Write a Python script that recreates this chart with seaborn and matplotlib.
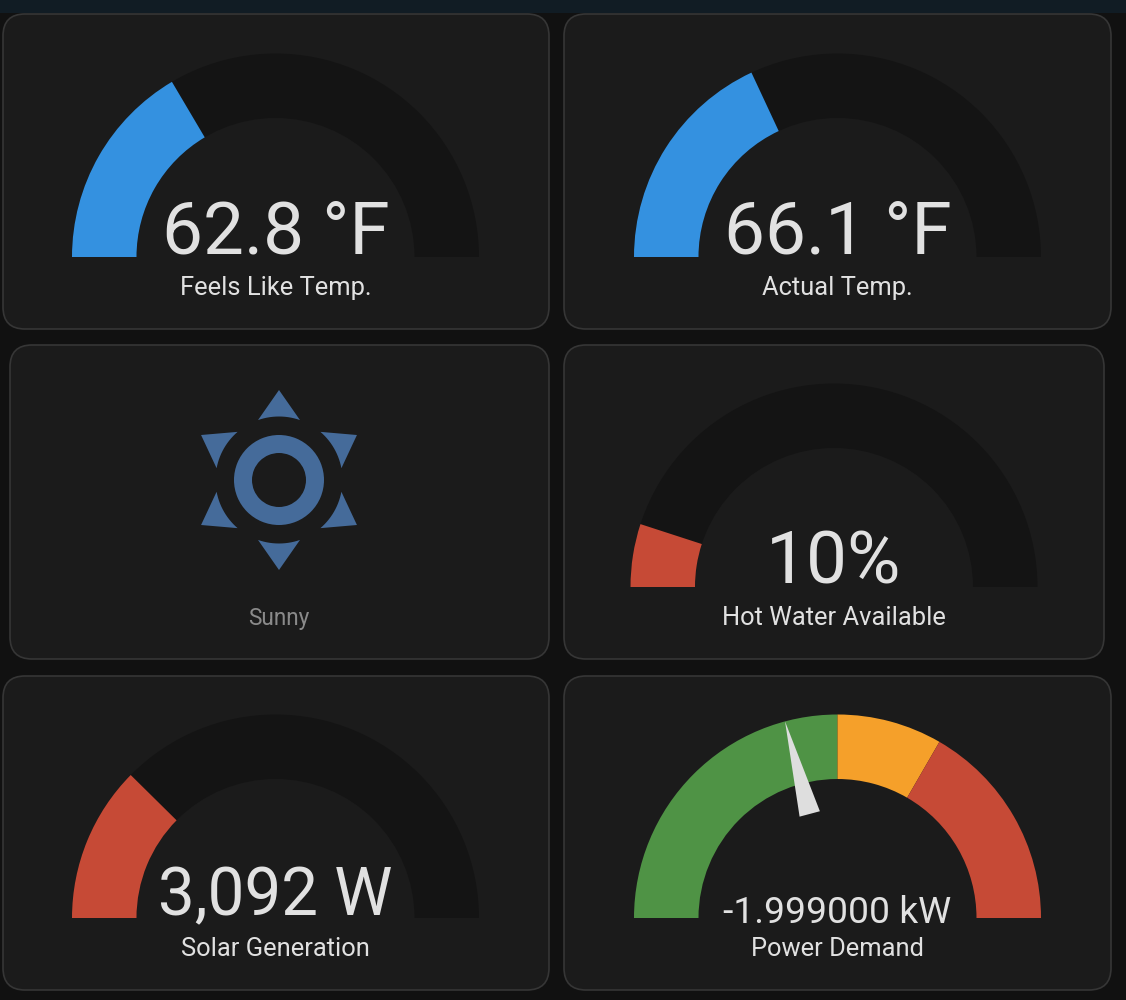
"""Home dashboard gauges: three temperature/level cards, a weather card and two power cards."""

import numpy as np
import matplotlib
matplotlib.use("Agg")
import matplotlib.pyplot as plt
from matplotlib.patches import FancyBboxPatch, Wedge, Polygon, Rectangle
import seaborn as sns

sns.set_theme(style="dark", rc={"axes.facecolor": "#111111", "figure.facecolor": "#111111"})
plt.rcParams["font.family"] = ["Roboto", "DejaVu Sans"]

# gauge readings, fraction = how far round the dial the reading sits
gauge_labels = ["Feels Like Temp.", "Actual Temp.", "Hot Water Available", "Solar Generation"]
gauge_texts = ["62.8 °F", "66.1 °F", "10%", "3,092 W"]
gauge_fractions = [0.33, 0.361, 0.10, 0.248]

# power demand dial
power_label = "Power Demand"
power_text = "-1.999000 kW"
power_needle = 0.417
power_stops = [0.0, 0.5, 0.667, 1.0]

weather_label = "Sunny"

# layout and styling, in image pixels
gauge_colors = ["#3491e0", "#3491e0", "#c64a36", "#c64a36"]
gauge_centers = [(275.5, 257), (837.5, 257), (834, 587), (275.5, 918)]
gauge_text_sizes = [52.5, 52.5, 52.5, 47.2]
power_colors = ["#4f9345", "#f5a02a", "#c64a36"]
power_center = (837.5, 918)
cards = [
    (3, 14, 546, 315), (564, 14, 547, 315),
    (10, 345, 539, 314), (564, 345, 540, 314),
    (3, 676, 546, 314), (564, 676, 547, 314),
]

OUTER = 203.5
INNER = 139
TEXT_COLOR = "#e1e1e1"


def arc(ax, center, start, stop, color):
    """Dial segment between two fractions, 0 at the left end and 1 at the right."""
    ax.add_patch(Wedge(center, OUTER, 180 + 180 * start, 180 + 180 * stop,
                       width=OUTER - INNER, facecolor=color, edgecolor="none"))


def draw_sun(ax, cx, cy):
    ax.add_patch(Wedge((cx, cy), 45, 0, 360, width=18, facecolor="#456b9a", edgecolor="none"))
    sweep = np.radians(np.linspace(-19.3, 19.3, 15))
    for turn in np.radians(np.arange(0, 360, 60)):
        angles = turn - np.pi / 2 + sweep
        pts = [(cx + 90 * np.cos(turn - np.pi / 2), cy + 90 * np.sin(turn - np.pi / 2))]
        pts += list(zip(cx + 63.5 * np.cos(angles), cy + 63.5 * np.sin(angles)))
        ax.add_patch(Polygon(pts, closed=True, facecolor="#456b9a", edgecolor="none"))


fig = plt.figure(figsize=(11.26, 10), dpi=100)
ax = fig.add_axes([0, 0, 1, 1])
ax.set_xlim(0, 1126)
ax.set_ylim(1000, 0)
ax.set_axis_off()

ax.add_patch(Rectangle((0, 0), 1126, 1000, facecolor="#111111", edgecolor="none"))
ax.add_patch(Rectangle((0, 0), 1126, 13, facecolor="#111c24", edgecolor="none"))

for x, y, w, h in cards:
    ax.add_patch(FancyBboxPatch((x, y), w, h, boxstyle="round,pad=0,rounding_size=22",
                                facecolor="#1b1b1b", edgecolor="#363636", linewidth=1.2))

for label, text, frac, color, center, size in zip(gauge_labels, gauge_texts, gauge_fractions,
                                                  gauge_colors, gauge_centers, gauge_text_sizes):
    arc(ax, center, 0, 1, "#141414")
    arc(ax, center, 0, frac, color)
    ax.text(center[0], center[1] - 3, text, ha="center", va="baseline", fontsize=size,
            color=TEXT_COLOR)
    ax.text(center[0], center[1] + 31, label, ha="center", va="center", fontsize=18.4,
            color=TEXT_COLOR)

for start, stop, color in zip(power_stops[:-1], power_stops[1:], power_colors):
    arc(ax, power_center, start, stop, color)

# needle narrows from a base inside the dial out to the rim
theta = np.pi + np.pi * power_needle
direction = np.array([np.cos(theta), np.sin(theta)])
normal = np.array([-direction[1], direction[0]])
base = np.array(power_center) + 107.7 * direction
tip = np.array(power_center) + OUTER * direction
ax.add_patch(Polygon([tip, base + 10.5 * normal, base - 10.5 * normal], closed=True,
                     facecolor="#dedede", edgecolor="none", zorder=4))
ax.text(power_center[0], power_center[1] + 5, power_text, ha="center", va="baseline", fontsize=26.8,
        color=TEXT_COLOR)
ax.text(power_center[0], power_center[1] + 31, power_label, ha="center", va="center", fontsize=18.4,
        color=TEXT_COLOR)

draw_sun(ax, 279, 480)
ax.text(279, 618, weather_label, ha="center", va="center", fontsize=16.3, color="#8a8a8a")

fig.savefig("out.png", dpi=100, facecolor=fig.get_facecolor())
plt.close(fig)
